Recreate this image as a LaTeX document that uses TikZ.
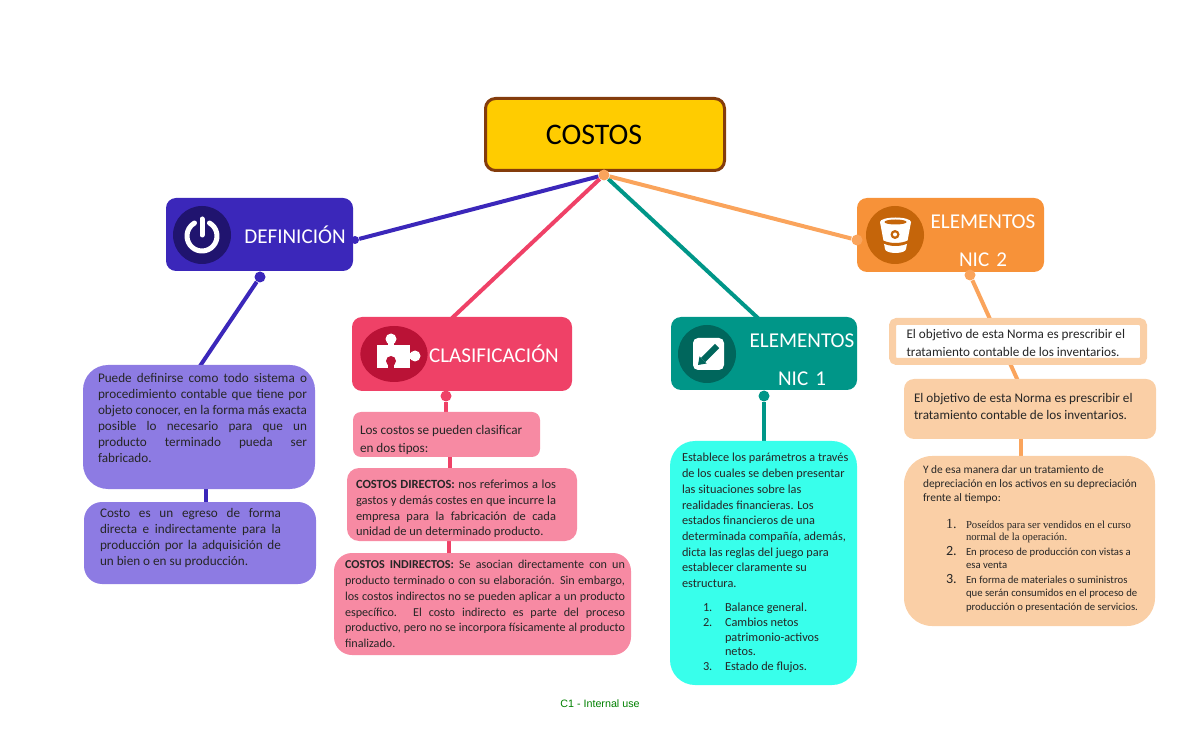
\documentclass[tikz,border=0pt]{standalone}
\usepackage{fontspec}
\setmainfont{Carlito}
\newfontfamily\serifText{Liberation Serif}
\newfontfamily\footText{Liberation Sans}
\usepackage{xcolor}
\usetikzlibrary{positioning,calc}
\definecolor{costosYellow}{HTML}{FFCC00}
\definecolor{costosBrown}{HTML}{843C0C}
\definecolor{defBlue}{HTML}{3B27BA}
\definecolor{defDark}{HTML}{20146F}
\definecolor{defLight}{HTML}{8D7BE3}
\definecolor{claRed}{HTML}{EF4167}
\definecolor{claDark}{HTML}{BA1236}
\definecolor{claLight}{HTML}{F78AA3}
\definecolor{nicTeal}{HTML}{009688}
\definecolor{nicDark}{HTML}{00665C}
\definecolor{nicLight}{HTML}{38FFEB}
\definecolor{invOrange}{HTML}{F79239}
\definecolor{invDark}{HTML}{C5650A}
\definecolor{invLight}{HTML}{FACFA6}
\definecolor{invLine}{HTML}{FAA45C}
\definecolor{footGreen}{HTML}{008000}
\newlength\pxu
\setlength\pxu{0.2mm}
\pgfdeclarelayer{bg}
\pgfsetlayers{bg,main}
\tikzset{
  boxSize/.style 2 args={
    rectangle,
    inner sep=0pt,
    outer sep=0pt,
    anchor=north west,
    minimum width=#1*0.2mm,
    minimum height=#2*0.2mm,
    text width=#1*0.2mm
  },
  textSkip/.style 2 args={
    align=justify,
    font=\fontsize{7.5}{8.95}\selectfont,
    text=black!85,
    execute at begin node={\hyphenpenalty=10000\tolerance=9999\leftskip=#1\pxu\rightskip=#2\pxu\parfillskip=0pt plus 1fil}
  },
  bodySize/.style={
    font=\fontsize{#1}{8.95}\selectfont
  },
  wideSize/.style={
    font=\fontsize{7.5}{#1}\selectfont
  },
  headBox/.style 2 args={
    align=center,
    font=\fontsize{12}{21.6}\selectfont,
    text=white,
    rounded corners=2mm,
    execute at begin node={\leftskip=#1\pxu plus 1fil\rightskip=#2\pxu plus 1fil}
  },
  iconDisc/.style={
    circle,
    minimum size=58*0.2mm,
    inner sep=0pt
  },
  dotNode/.style={
    circle,
    minimum size=11*0.2mm,
    inner sep=0pt
  },
  linkLine/.style={
    line width=4*0.2mm
  }
}
\newcommand{\numItem}[3][]{\par\hangindent=#2\pxu\hangafter=1\noindent\hbox to #2\pxu{#1\hfil}#3}
\newcommand{\topPad}[2]{\rule{0pt}{\dimexpr #1pt+#2\pxu\relax}}
\begin{document}
\begin{tikzpicture}[x=0.2mm,y=-0.2mm]
  \useasboundingbox (0,0) rectangle (1200,729);

  % main title
  \node[boxSize={239}{72}, headBox={0}{22}, font=\fontsize{17}{20}\selectfont, text=black,
        fill=costosYellow, draw=costosBrown, line width=3*0.2mm] (costos) at (485.5,98.5) {COSTOS};
  \node[dotNode, fill=invLine] (hub) at (604,175) {};

  % definition branch
  \node[boxSize={187}{73}, headBox={71}{0}, fill=defBlue] (definicion) at (166,198) {DEFINICIÓN};
  \node[iconDisc, fill=defDark] (defIcon) at (202,235) {};
  \node[dotNode, fill=defBlue, minimum size=8*0.2mm] (defIn) at (355,240) {};
  \node[dotNode, fill=defBlue] (defOut) at (260,277) {};
  \node[boxSize={232}{124}, textSkip={15}{8}, wideSize=9.1, fill=defLight, rounded corners=5mm] (defOne) at (83,365)
    {Puede definirse como todo sistema o\linebreak
     procedimiento contable que tiene por\linebreak
     objeto conocer, en la forma más exacta\linebreak
     posible lo necesario para que un\linebreak
     producto terminado pueda ser\linebreak
     fabricado.\par\vspace*{18\pxu}};
  \node[boxSize={232}{82}, textSkip={16}{35}, wideSize=9.1, fill=defLight, rounded corners=3.6mm] (defTwo) at (84,502)
    {Costo es un egreso de forma\linebreak
     directa e indirectamente para la\linebreak
     producción por la adquisición de\linebreak
     un bien o en su producción.\par\vspace*{10\pxu}};

  % classification branch
  \node[boxSize={220}{74}, headBox={64}{0}, fill=claRed] (clasif) at (352,317) {CLASIFICACIÓN};
  \node[circle, fill=claDark, minimum size=56*0.2mm, inner sep=0pt, xscale=1.2] (claIcon) at (394,354) {};
  \node[dotNode, fill=claRed] (claOut) at (446,396) {};
  \node[boxSize={187}{45}, textSkip={7}{4}, wideSize=10, fill=claLight, rounded corners=1.6mm] (tipos) at (353,412)
    {\topPad{5.2}{11}Los costos se pueden clasificar\\
     en dos tipos:};
  \node[boxSize={230}{73}, textSkip={9}{21}, bodySize=7.1, fill=claLight, rounded corners=2.4mm] (directos) at (347,468)
    {\topPad{5}{9}\textbf{COSTOS DIRECTOS:} nos referimos a los\linebreak
     gastos y demás costes en que incurre la\linebreak
     empresa para la fabricación de cada\linebreak
     unidad de un determinado producto.};
  \node[boxSize={297}{102}, textSkip={11}{6}, bodySize=6.9, fill=claLight, rounded corners=3.6mm] (indirectos) at (334,553)
    {\textbf{COSTOS INDIRECTOS:} Se asocian directamente con un\linebreak
     producto terminado o con su elaboración. Sin embargo,\linebreak
     los costos indirectos no se pueden aplicar a un producto\linebreak
     específico. El costo indirecto es parte del proceso\linebreak
     productivo, pero no se incorpora físicamente al producto\linebreak
     finalizado.};

  % nic 1 branch
  \node[boxSize={186}{73}, headBox={76}{0}, fill=nicTeal] (nicOne) at (671,317) {\topPad{8}{13}ELEMENTOS\\NIC 1};
  \node[iconDisc, fill=nicDark] (nicIcon) at (707,354) {};
  \node[dotNode, fill=nicTeal] (nicOut) at (764,396) {};
  \node[boxSize={187}{244}, textSkip={12}{4}, bodySize=7, fill=nicLight, rounded corners=5mm] (nicText) at (670,441)
    {Establece los parámetros a través\\
     de los cuales se deben presentar\\
     las situaciones sobre las\\
     realidades financieras. Los\\
     estados financieros de una\\
     determinada compañía, además,\\
     dicta las reglas del juego para\\
     establecer claramente su\\
     estructura.\par\vspace{5.2pt}
     \fontsize{7}{8.4}\selectfont\leftskip=33\pxu
     \numItem[1.]{22}{Balance general.}
     \numItem[2.]{22}{Cambios netos\\patrimonio-activos\\netos.}
     \numItem[3.]{22}{Estado de flujos.}\par};

  % nic 2 branch
  \node[boxSize={187}{74}, headBox={65}{0}, fill=invOrange] (nicTwo) at (857,198) {\topPad{8}{12}ELEMENTOS\\NIC 2};
  \node[iconDisc, fill=invDark] (invIcon) at (895,235) {};
  \node[dotNode, fill=invLine] (invIn) at (857,240) {};
  \node[dotNode, fill=invLine] (invOut) at (970,275) {};
  \node[boxSize={251}{40}, textSkip={14}{4}, wideSize=10, fill=white, draw=invLight, line width=7*0.2mm, rounded corners=0.8mm] (objWhite) at (892.5,321.5)
    {\topPad{5.2}{3}El objetivo de esta Norma es prescribir el\\
     tratamiento contable de los inventarios.};
  \node[boxSize={252}{60}, textSkip={10}{4}, wideSize=10, fill=invLight, rounded corners=2mm] (objPeach) at (904,379)
    {El objetivo de esta Norma es prescribir el\\
     tratamiento contable de los inventarios.\par\vspace*{5\pxu}};
  \node[boxSize={251}{170}, textSkip={19}{4}, fill=invLight, rounded corners=5.6mm,
        font=\fontsize{6.5}{8}\selectfont] (invText) at (904,456)
    {Y de esa manera dar un tratamiento de\\
     depreciación en los activos en su depreciación\\
     frente al tiempo:\par\vspace{8.2pt}
     \fontsize{6.1}{7.7}\selectfont\leftskip=42\pxu
     {\serifText\fontsize{6.1}{6.8}\selectfont
     \numItem[{\fontsize{8}{8}\selectfont 1.}]{20}{Poseídos para ser vendidos en el curso\\normal de la operación.}\par}\vspace{1pt}
     \numItem[{\fontsize{8}{8}\selectfont 2.}]{20}{En proceso de producción con vistas a\\esa venta}\par\vspace{0.5pt}
     \numItem[{\fontsize{8}{8}\selectfont 3.}]{20}{En forma de materiales o suministros\\que serán consumidos en el proceso de\\producción o presentación de servicios.}\par\vspace*{4\pxu}};

  % free ends of the links
  \coordinate (claIn) at (450,320);
  \coordinate (nicIn) at (760,320);
  \coordinate (defEnd) at (200,366);
  \coordinate (defJoin) at (206,486);
  \coordinate (tipJoin) at (450,455);
  \coordinate (dirJoin) at (449,539);
  \coordinate (invEnd) at (1018,381);
  \coordinate (objJoin) at (1021,437);

  % links, under the boxes
  \begin{pgfonlayer}{bg}
    \draw[linkLine, defBlue] (hub) -- (defIn);
    \draw[linkLine, claRed] (hub) -- (claIn);
    \draw[linkLine, nicTeal] (hub) -- (nicIn);
    \draw[linkLine, invLine] (hub) -- (invIn);
    \draw[linkLine, defBlue] (defOut) -- (defEnd);
    \draw[linkLine, defBlue] (defJoin) -- (defJoin |- defTwo.north);
    \draw[linkLine, claRed] (claOut) -- (claOut |- tipos.north);
    \draw[linkLine, claRed] (tipJoin) -- (tipJoin |- directos.north);
    \draw[linkLine, claRed] (dirJoin) -- (dirJoin |- indirectos.north);
    \draw[linkLine, nicTeal] (nicOut) -- (nicOut |- nicText.north);
    \draw[linkLine, invLine] (invOut) -- (invEnd);
    \draw[linkLine, invLine] (objJoin) -- (objJoin |- invText.north);
  \end{pgfonlayer}

  % power icon
  \draw[white, line width=5*0.2mm, line cap=round]
    (202,236) ++(-60:15) arc[start angle=-60, end angle=240, radius=15];
  \draw[white, line width=5*0.2mm, line cap=round] (202,219) -- (202,235);

  % puzzle icon
  \fill[white] (377,345) rectangle (410,368);
  \fill[white] (391,339) circle (5.5);
  \fill[white] (388,342) rectangle (394,347);
  \fill[white] (415,356) circle (5.5);
  \fill[white] (408,353) rectangle (413,359);
  \fill[claDark] (391,361) circle (5);
  \fill[claDark] (388,363) rectangle (394,368.5);

  % pencil icon
  \fill[white, rounded corners=1mm] (693,338) rectangle (724,370);
  \draw[nicDark, line width=6*0.2mm] (717,346) -- (703,360);
  \fill[nicDark] (699.5,356.5) -- (706.5,363.5) -- (698,365) -- cycle;

  % bucket icon
  \fill[white] (880,222) -- (911,222) -- (906,249) arc[start angle=0, end angle=180, x radius=10.5, y radius=4] -- cycle;
  \fill[white] (895.5,222) ellipse (15.5 and 4.5);
  \fill[invDark] (895.5,222) ellipse (11 and 2.5);
  \fill[invDark] (882,240) .. controls (890,244) and (901,244) .. (909,240) -- (908.5,243) .. controls (901,247) and (890,247) .. (882.5,243) -- cycle;
  \fill[invDark] (895,234.5) circle (4.5);
  \fill[white] (895,234.5) circle (2);

  % footer
  \node[font=\footText\fontsize{6.1}{7}\selectfont, text=footGreen, inner sep=0pt] (footer) at (600,704) {C1 - Internal use};
\end{tikzpicture}
\end{document}
